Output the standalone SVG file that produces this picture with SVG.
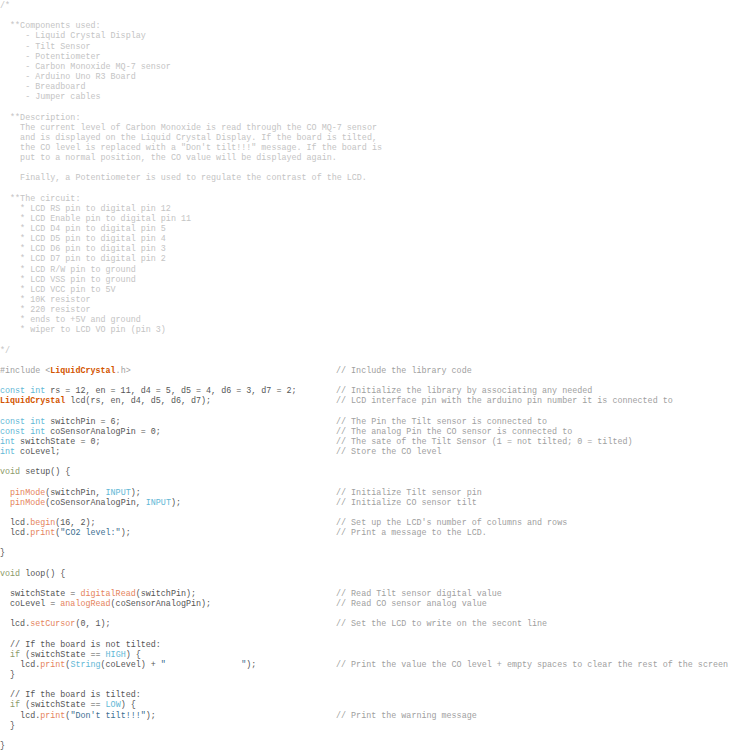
<svg xmlns="http://www.w3.org/2000/svg" width="730" height="753" viewBox="0 0 730 753">
<style>
text{font-family:"Liberation Mono","Courier New",monospace;font-size:8.4px;fill:#555;white-space:pre}
.h{fill:#c4c4c4}.c{fill:#a0a0a0}.k{fill:#62b8d6}.v{fill:#8c9a6a}.f{fill:#e5845c}.L{fill:#d35400;font-weight:bold}.s{fill:#3c6e8f}
</style>
<rect width="730" height="753" fill="#fff"/>
<g id="header" xml:space="preserve">
<text class="h" x="0" y="8">/*</text>
<text class="h" x="0" y="28.3">  **Components used:</text>
<text class="h" x="0" y="38.4">     - Liquid Crystal Display</text>
<text class="h" x="0" y="48.5">     - Tilt Sensor</text>
<text class="h" x="0" y="58.7">     - Potentiometer</text>
<text class="h" x="0" y="68.8">     - Carbon Monoxide MQ-7 sensor</text>
<text class="h" x="0" y="78.9">     - Arduino Uno R3 Board</text>
<text class="h" x="0" y="89.1">     - Breadboard</text>
<text class="h" x="0" y="99.2">     - Jumper cables</text>
<text class="h" x="0" y="119.5">  **Description:</text>
<text class="h" x="0" y="129.6">    The current level of Carbon Monoxide is read through the CO MQ-7 sensor</text>
<text class="h" x="0" y="139.8">    and is displayed on the Liquid Crystal Display. If the board is tilted,</text>
<text class="h" x="0" y="149.9">    the CO level is replaced with a "Don't tilt!!!" message. If the board is</text>
<text class="h" x="0" y="160.0">    put to a normal position, the CO value will be displayed again.</text>
<text class="h" x="0" y="180.3">    Finally, a Potentiometer is used to regulate the contrast of the LCD.</text>
<text class="h" x="0" y="200.6">  **The circuit:</text>
<text class="h" x="0" y="210.7">    * LCD RS pin to digital pin 12</text>
<text class="h" x="0" y="220.9">    * LCD Enable pin to digital pin 11</text>
<text class="h" x="0" y="231.0">    * LCD D4 pin to digital pin 5</text>
<text class="h" x="0" y="241.1">    * LCD D5 pin to digital pin 4</text>
<text class="h" x="0" y="251.3">    * LCD D6 pin to digital pin 3</text>
<text class="h" x="0" y="261.4">    * LCD D7 pin to digital pin 2</text>
<text class="h" x="0" y="271.6">    * LCD R/W pin to ground</text>
<text class="h" x="0" y="281.7">    * LCD VSS pin to ground</text>
<text class="h" x="0" y="291.8">    * LCD VCC pin to 5V</text>
<text class="h" x="0" y="302.0">    * 10K resistor</text>
<text class="h" x="0" y="312.1">    * 220 resistor</text>
<text class="h" x="0" y="322.2">    * ends to +5V and ground</text>
<text class="h" x="0" y="332.4">    * wiper to LCD VO pin (pin 3)</text>
<text class="h" x="0" y="352.6">*/</text>
</g>
<g id="code" xml:space="preserve">
<text x="0" y="372.9"><tspan class="c">#include </tspan><tspan class="c">&lt;</tspan><tspan class="L">LiquidCrystal</tspan><tspan class="c">.h&gt;</tspan></text>
<text x="0" y="393.2"><tspan class="k">const int</tspan> rs = 12, en = 11, d4 = 5, d5 = 4, d6 = 3, d7 = 2;</text>
<text x="0" y="403.3"><tspan class="L">LiquidCrystal</tspan> lcd(rs, en, d4, d5, d6, d7);</text>
<text x="0" y="423.6"><tspan class="k">const int</tspan> switchPin = 6;</text>
<text x="0" y="433.7"><tspan class="k">const int</tspan> coSensorAnalogPin = 0;</text>
<text x="0" y="443.9"><tspan class="k">int</tspan> switchState = 0;</text>
<text x="0" y="454.0"><tspan class="k">int</tspan> coLevel;</text>
<text x="0" y="474.3"><tspan class="v">void</tspan> setup() {</text>
<text x="0" y="494.5">  <tspan class="f">pinMode</tspan>(switchPin, <tspan class="k">INPUT</tspan>);</text>
<text x="0" y="504.7">  <tspan class="f">pinMode</tspan>(coSensorAnalogPin, <tspan class="k">INPUT</tspan>);</text>
<text x="0" y="525.0">  lcd.<tspan class="f">begin</tspan>(16, 2);</text>
<text x="0" y="535.1">  lcd.<tspan class="f">print</tspan>(<tspan class="s">"CO2 level:"</tspan>);</text>
<text x="0" y="555.4">}</text>
<text x="0" y="575.7"><tspan class="v">void</tspan> loop() {</text>
<text x="0" y="595.9">  switchState = <tspan class="f">digitalRead</tspan>(switchPin);</text>
<text x="0" y="606.1">  coLevel = <tspan class="f">analogRead</tspan>(coSensorAnalogPin);</text>
<text x="0" y="626.4">  lcd.<tspan class="f">setCursor</tspan>(0, 1);</text>
<text x="0" y="646.6">  // If the board is not tilted:</text>
<text x="0" y="656.8">  <tspan class="v">if</tspan> (switchState == <tspan class="k">HIGH</tspan>) {</text>
<text x="0" y="666.9">    lcd.<tspan class="f">print</tspan>(<tspan class="k">String</tspan>(coLevel) + <tspan class="s">"               "</tspan>);</text>
<text x="0" y="677.0">  }</text>
<text x="0" y="697.3">  // If the board is tilted:</text>
<text x="0" y="707.4">  <tspan class="v">if</tspan> (switchState == <tspan class="k">LOW</tspan>) {</text>
<text x="0" y="717.6">    lcd.<tspan class="f">print</tspan>(<tspan class="s">"Don't tilt!!!"</tspan>);</text>
<text x="0" y="727.7">  }</text>
<text x="0" y="748.0">}</text>
</g>
<g id="comments" class="c">
<text class="c" x="336" y="372.9">// Include the library code</text>
<text class="c" x="336" y="393.2">// Initialize the library by associating any needed</text>
<text class="c" x="336" y="403.3">// LCD interface pin with the arduino pin number it is connected to</text>
<text class="c" x="336" y="423.6">// The Pin the Tilt sensor is connected to</text>
<text class="c" x="336" y="433.7">// The analog Pin the CO sensor is connected to</text>
<text class="c" x="336" y="443.9">// The sate of the Tilt Sensor (1 = not tilted; 0 = tilted)</text>
<text class="c" x="336" y="454.0">// Store the CO level</text>
<text class="c" x="336" y="494.5">// Initialize Tilt sensor pin</text>
<text class="c" x="336" y="504.7">// Initialize CO sensor tilt</text>
<text class="c" x="336" y="525.0">// Set up the LCD's number of columns and rows</text>
<text class="c" x="336" y="535.1">// Print a message to the LCD.</text>
<text class="c" x="336" y="595.9">// Read Tilt sensor digital value</text>
<text class="c" x="336" y="606.1">// Read CO sensor analog value</text>
<text class="c" x="336" y="626.4">// Set the LCD to write on the secont line</text>
<text class="c" x="336" y="666.9">// Print the value the CO level + empty spaces to clear the rest of the screen</text>
<text class="c" x="336" y="717.6">// Print the warning message</text>
</g>
</svg>
